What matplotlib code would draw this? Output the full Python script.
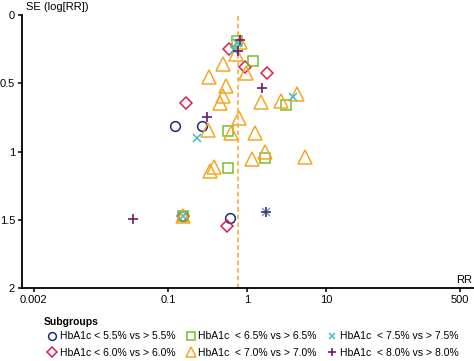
import matplotlib
matplotlib.use("Agg")
import matplotlib.pyplot as plt
import numpy as np

plt.rcParams['font.family'] = ['Liberation Sans', 'DejaVu Sans']

# funnel plot data: relative risk (RR) and standard error of log(RR), per subgroup
rr_55 = [0.123, 0.267, 0.155, 0.61]
se_55 = [0.813, 0.81, 1.47, 1.487]

rr_60 = [0.59, 0.94, 1.79, 0.171, 0.155, 0.558]
se_60 = [0.251, 0.379, 0.427, 0.645, 1.47, 1.549]

rr_65 = [0.75, 1.18, 3.12, 0.575, 1.71, 0.575, 0.155]
se_65 = [0.19, 0.337, 0.66, 0.848, 1.05, 1.117, 1.47]

rr_70 = [0.815, 0.726, 0.497, 0.97, 0.33, 0.542, 0.50, 0.449, 1.50, 2.72, 4.29,
         0.80, 0.324, 0.627, 1.26, 1.71, 1.17, 5.45, 0.382, 0.34, 0.155]
se_70 = [0.196, 0.281, 0.359, 0.42, 0.454, 0.52, 0.593, 0.641, 0.637, 0.626, 0.579,
         0.751, 0.839, 0.861, 0.862, 1.0, 1.057, 1.04, 1.111, 1.139, 1.47]

rr_75 = [0.75, 0.685, 3.86, 0.231, 0.155, 1.74]
se_75 = [0.207, 0.256, 0.597, 0.903, 1.47, 1.443]

rr_80 = [0.815, 0.77, 1.53, 0.314, 0.036, 1.74]
se_80 = [0.183, 0.264, 0.537, 0.749, 1.494, 1.443]

pooled_rr = 0.77

xticks = [0.002, 0.1, 1, 10, 500]
xtick_labels = ["0.002", "0.1", "1", "10", "500"]
yticks = [0, 0.5, 1, 1.5, 2]
ytick_labels = ["0", "0.5", "1", "1.5", "2"]

fig = plt.figure(figsize=(4.74, 3.61), dpi=100)
ax = fig.add_axes([0.0464, 0.2022, 0.9536, 0.7556])

ax.axvline(pooled_rr, color="#f2a52a", linestyle=(0, (3, 2)), linewidth=1.1, zorder=1)

# legend order is column-major so rows read 5.5/6.5/7.5 then 6.0/7.0/8.0
ax.plot(rr_55, se_55, "o", ms=7, mfc="none", mec="#1f2a78", mew=1.1, ls="none",
        label="HbA1c < 5.5% vs > 5.5%")
ax.plot(rr_60, se_60, "D", ms=6.5, mfc="none", mec="#e0204c", mew=1.1, ls="none",
        label="HbA1c < 6.0% vs > 6.0%")
ax.plot(rr_65, se_65, "s", ms=6.5, mfc="none", mec="#78bc2c", mew=1.1, ls="none",
        label="HbA1c  < 6.5% vs > 6.5%")
ax.plot(rr_70, se_70, "^", ms=9.5, mfc="none", mec="#f5a623", mew=1.1, ls="none",
        label="HbA1c  < 7.0% vs > 7.0%")
ax.plot(rr_75, se_75, "x", ms=6, color="#3cbfc8", mew=1.1, ls="none",
        label="HbA1c  < 7.5% vs > 7.5%")
ax.plot(rr_80, se_80, "+", ms=7, color="#6b1d6e", mew=1.2, ls="none",
        label="HbA1c  < 8.0% vs > 8.0%")

ax.set_xscale("log")
ax.set_xlim(0.00142, 747)
ax.set_ylim(2, 0)
ax.set_xticks(xticks)
ax.set_xticklabels(xtick_labels)
ax.xaxis.set_minor_locator(matplotlib.ticker.NullLocator())
ax.set_yticks(yticks)
ax.set_yticklabels(ytick_labels)
ax.tick_params(labelsize=8, length=3, width=1.1, pad=2)

for s in ["top", "right"]:
    ax.spines[s].set_visible(False)
ax.spines["left"].set_linewidth(1.3)
ax.spines["bottom"].set_linewidth(1.3)

fig.text(26 / 474, 1 - 7 / 361, "SE (log[RR])", fontsize=8, va="center", ha="left")
ax.text(0.995, 0.012, "RR", transform=ax.transAxes, fontsize=8, ha="right", va="bottom")

fig.text(44 / 474, 1 - 322 / 361, "Subgroups", fontsize=7.5, fontweight="bold",
         va="center", ha="left")
leg = fig.legend(loc="upper left", bbox_to_anchor=(40 / 474, 1 - 324 / 361), ncol=3,
                 frameon=False, fontsize=7.5, handlelength=0.9, handletextpad=0.3,
                 columnspacing=1.0, labelspacing=0.6, borderpad=0.2,
                 markerscale=0.8)

fig.savefig("out.png", dpi=100)
